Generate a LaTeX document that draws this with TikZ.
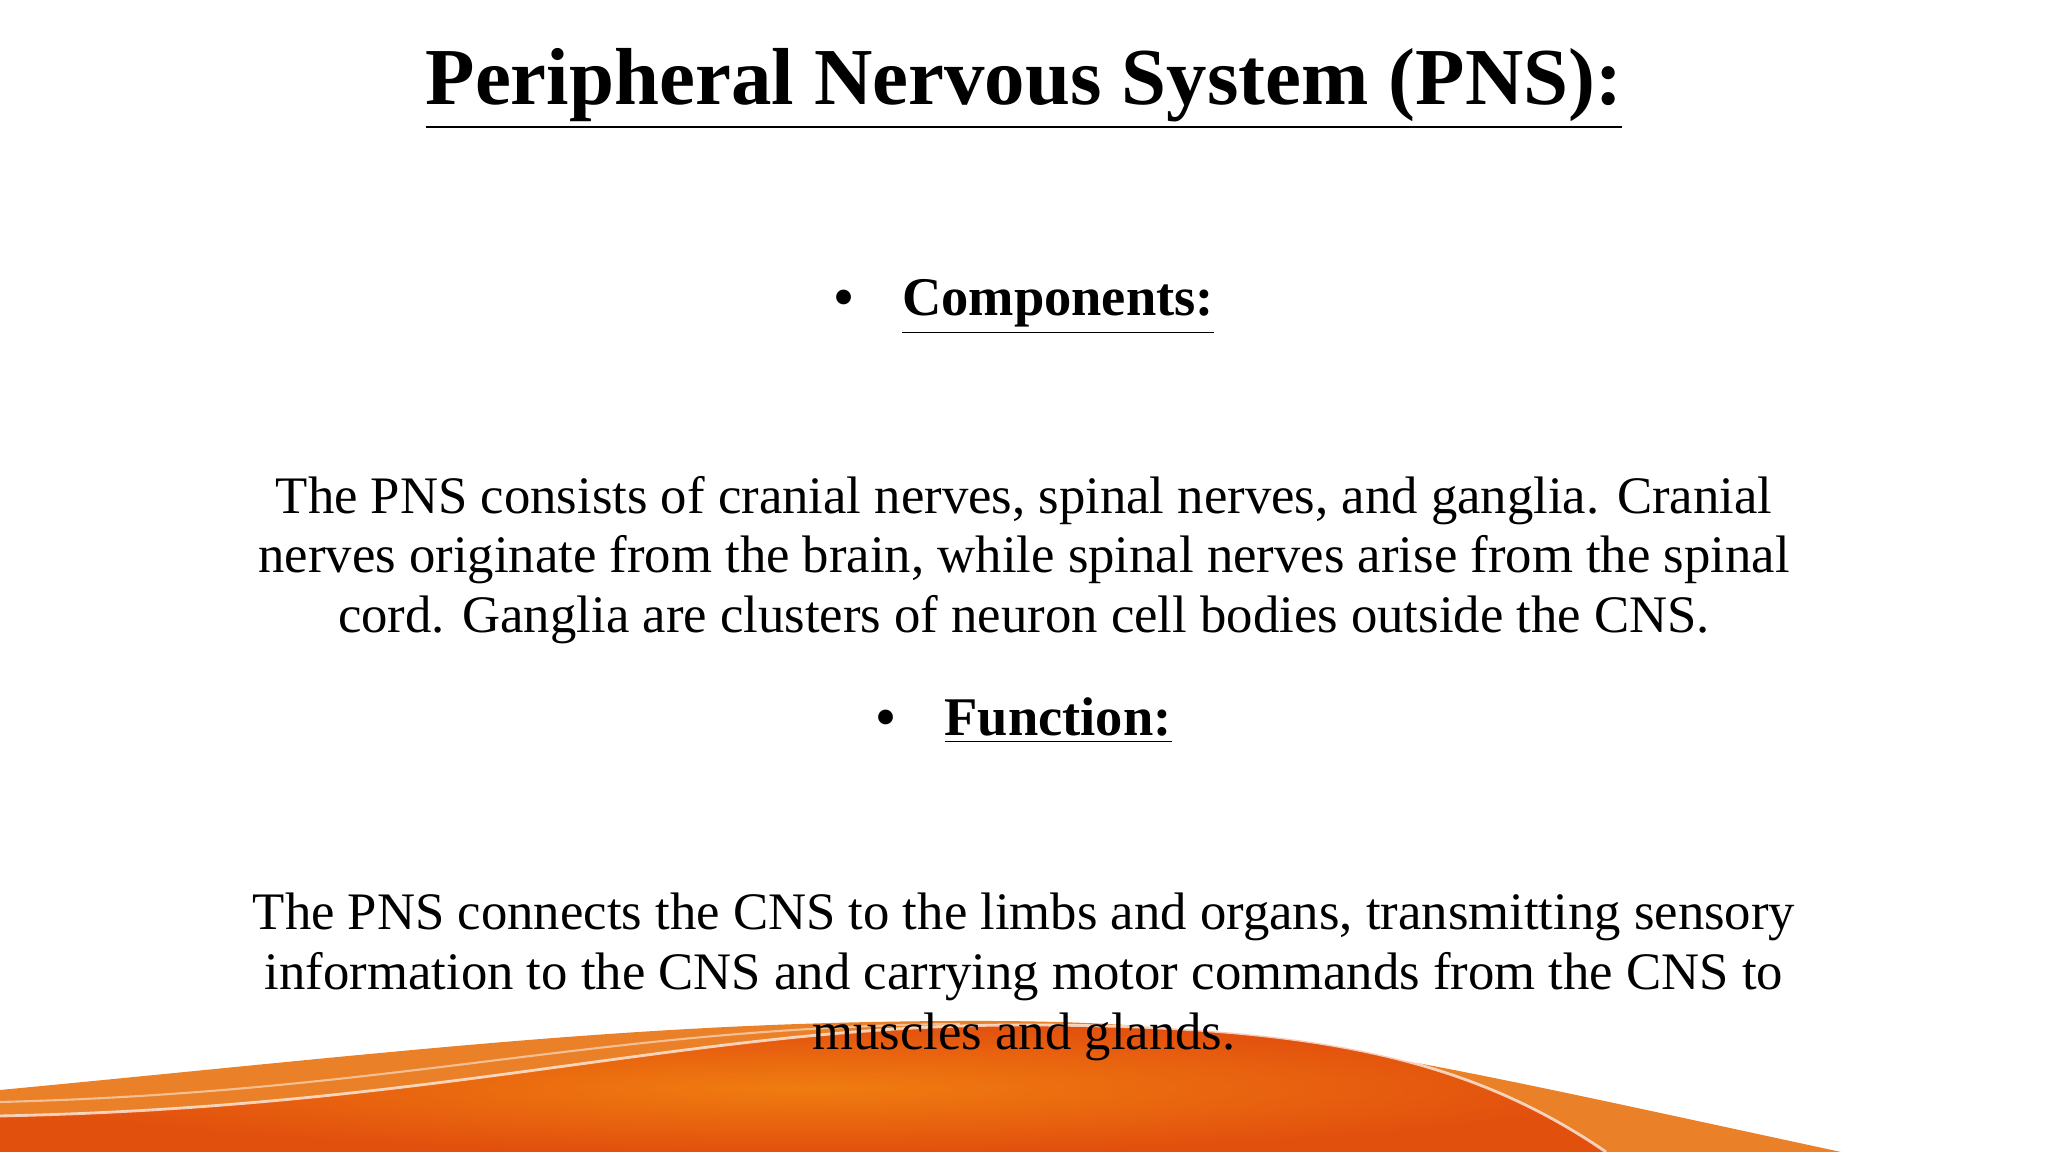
\documentclass[tikz,border=0pt]{standalone}
\usepackage{fontspec}
\setmainfont{Liberation Serif}
\begin{document}
\begin{tikzpicture}
\definecolor{orlight}{HTML}{EA8028}
\definecolor{ormid}{HTML}{F07C10}
\definecolor{ordark}{HTML}{E2500E}
\tikzset{body/.style={align=center,font=\fontsize{15}{17}\selectfont},
 head/.style={font=\fontsize{15.5}{18}\selectfont\bfseries},
 ttl/.style={font=\fontsize{23}{27}\selectfont\bfseries}}
\useasboundingbox (0,0) rectangle (20.48,11.52);
\fill[white] (0,0) rectangle (20.48,11.52);
% wave
\fill[orlight] (0,0) -- (0,0.62) .. controls (4,1.0) and (6.5,1.32) .. (9.9,1.31) .. controls (12.6,1.30) and (14,0.95) .. (18.41,0) -- cycle;
\shade[inner color=ormid,outer color=ordark] (0,0) -- (0,0.36) .. controls (4.5,0.45) and (7,1.28) .. (10.3,1.27) .. controls (13,1.26) and (14.6,1.0) .. (16.06,0) -- cycle;
\draw[white,opacity=0.7,line width=0.8pt] (0,0.36) .. controls (4.5,0.45) and (7,1.28) .. (10.3,1.27) .. controls (13,1.26) and (14.6,1.0) .. (16.06,0);
\draw[white,opacity=0.5,line width=0.6pt] (0,0.5) .. controls (4,0.6) and (6,1.25) .. (9.6,1.28);
% text
\node[ttl] (title) at (10.24,10.63) {\underline{Peripheral Nervous System (PNS):}};
\node[head] (comp) at (10.24,8.45) {•\hspace{0.9em}\underline{Components:}};
\node[body] (p1) at (10.24,5.92) {The PNS consists of cranial nerves, spinal nerves, and ganglia. Cranial\\nerves originate from the brain, while spinal nerves arise from the spinal\\cord. Ganglia are clusters of neuron cell bodies outside the CNS.};
\node[head] (func) at (10.24,4.31) {•\hspace{0.9em}\underline{Function:}};
\node[body] (p2) at (10.24,1.75) {The PNS connects the CNS to the limbs and organs, transmitting sensory\\information to the CNS and carrying motor commands from the CNS to\\muscles and glands.};
\end{tikzpicture}
\end{document}
